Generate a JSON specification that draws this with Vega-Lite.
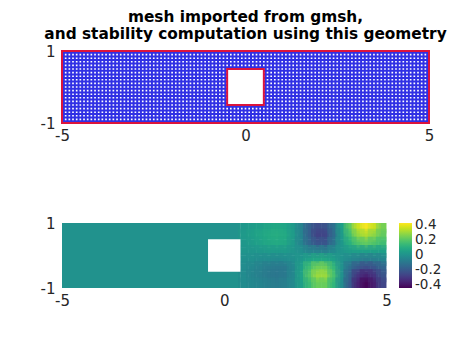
{"$schema":"https://vega.github.io/schema/vega-lite/v6.json","padding":{"left":40,"top":9,"right":5,"bottom":5},"background":"white","bounds":"flush","spacing":100,"config":{"view":{"stroke":null},"font":"DejaVu Sans","axis":{"domain":false,"ticks":false,"grid":false,"title":null,"labelFont":"DejaVu Sans","labelFontSize":15,"labelColor":"#262626","labelOverlap":false,"labelFlush":false}},
"datasets":{
"vx":[{"x":-4.95},{"x":-4.85},{"x":-4.75},{"x":-4.65},{"x":-4.55},{"x":-4.45},{"x":-4.35},{"x":-4.25},{"x":-4.15},{"x":-4.05},{"x":-3.95},{"x":-3.85},{"x":-3.75},{"x":-3.65},{"x":-3.55},{"x":-3.45},{"x":-3.35},{"x":-3.25},{"x":-3.15},{"x":-3.05},{"x":-2.95},{"x":-2.85},{"x":-2.75},{"x":-2.65},{"x":-2.55},{"x":-2.45},{"x":-2.35},{"x":-2.25},{"x":-2.15},{"x":-2.05},{"x":-1.95},{"x":-1.85},{"x":-1.75},{"x":-1.65},{"x":-1.55},{"x":-1.45},{"x":-1.35},{"x":-1.25},{"x":-1.15},{"x":-1.05},{"x":-0.95},{"x":-0.85},{"x":-0.75},{"x":-0.65},{"x":-0.55},{"x":-0.45},{"x":-0.35},{"x":-0.25},{"x":-0.15},{"x":-0.05},{"x":0.05},{"x":0.15},{"x":0.25},{"x":0.35},{"x":0.45},{"x":0.55},{"x":0.65},{"x":0.75},{"x":0.85},{"x":0.95},{"x":1.05},{"x":1.15},{"x":1.25},{"x":1.35},{"x":1.45},{"x":1.55},{"x":1.65},{"x":1.75},{"x":1.85},{"x":1.95},{"x":2.05},{"x":2.15},{"x":2.25},{"x":2.35},{"x":2.45},{"x":2.55},{"x":2.65},{"x":2.75},{"x":2.85},{"x":2.95},{"x":3.05},{"x":3.15},{"x":3.25},{"x":3.35},{"x":3.45},{"x":3.55},{"x":3.65},{"x":3.75},{"x":3.85},{"x":3.95},{"x":4.05},{"x":4.15},{"x":4.25},{"x":4.35},{"x":4.45},{"x":4.55},{"x":4.65},{"x":4.75},{"x":4.85},{"x":4.95}],
"hy":[{"y":-0.95},{"y":-0.85},{"y":-0.75},{"y":-0.65},{"y":-0.55},{"y":-0.45},{"y":-0.35},{"y":-0.25},{"y":-0.15},{"y":-0.05},{"y":0.05},{"y":0.15},{"y":0.25},{"y":0.35},{"y":0.45},{"y":0.55},{"y":0.65},{"y":0.75},{"y":0.85},{"y":0.95}],
"field":[
{"x":0.625,"y":0.875,"v":0.02},{"x":0.875,"y":0.875,"v":0.04},{"x":1.125,"y":0.875,"v":0.05},{"x":1.375,"y":0.875,"v":0.07},{"x":1.625,"y":0.875,"v":0.08},{"x":1.875,"y":0.875,"v":0.07},{"x":2.125,"y":0.875,"v":0.03},{"x":2.375,"y":0.875,"v":-0.06},{"x":2.625,"y":0.875,"v":-0.18},{"x":2.875,"y":0.875,"v":-0.24},{"x":3.125,"y":0.875,"v":-0.22},{"x":3.375,"y":0.875,"v":-0.12},{"x":3.625,"y":0.875,"v":0.05},{"x":3.875,"y":0.875,"v":0.22},{"x":4.125,"y":0.875,"v":0.36},{"x":4.375,"y":0.875,"v":0.42},{"x":4.625,"y":0.875,"v":0.36},{"x":4.875,"y":0.875,"v":0.25},
{"x":0.625,"y":0.625,"v":0.03},{"x":0.875,"y":0.625,"v":0.05},{"x":1.125,"y":0.625,"v":0.07},{"x":1.375,"y":0.625,"v":0.09},{"x":1.625,"y":0.625,"v":0.1},{"x":1.875,"y":0.625,"v":0.09},{"x":2.125,"y":0.625,"v":0.04},{"x":2.375,"y":0.625,"v":-0.05},{"x":2.625,"y":0.625,"v":-0.18},{"x":2.875,"y":0.625,"v":-0.27},{"x":3.125,"y":0.625,"v":-0.26},{"x":3.375,"y":0.625,"v":-0.14},{"x":3.625,"y":0.625,"v":0.03},{"x":3.875,"y":0.625,"v":0.17},{"x":4.125,"y":0.625,"v":0.29},{"x":4.375,"y":0.625,"v":0.33},{"x":4.625,"y":0.625,"v":0.28},{"x":4.875,"y":0.625,"v":0.22},
{"x":0.625,"y":0.375,"v":0.02},{"x":0.875,"y":0.375,"v":0.04},{"x":1.125,"y":0.375,"v":0.06},{"x":1.375,"y":0.375,"v":0.08},{"x":1.625,"y":0.375,"v":0.09},{"x":1.875,"y":0.375,"v":0.08},{"x":2.125,"y":0.375,"v":0.03},{"x":2.375,"y":0.375,"v":-0.05},{"x":2.625,"y":0.375,"v":-0.15},{"x":2.875,"y":0.375,"v":-0.21},{"x":3.125,"y":0.375,"v":-0.21},{"x":3.375,"y":0.375,"v":-0.11},{"x":3.625,"y":0.375,"v":0.02},{"x":3.875,"y":0.375,"v":0.11},{"x":4.125,"y":0.375,"v":0.19},{"x":4.375,"y":0.375,"v":0.22},{"x":4.625,"y":0.375,"v":0.19},{"x":4.875,"y":0.375,"v":0.16},
{"x":0.625,"y":0.125,"v":0.01},{"x":0.875,"y":0.125,"v":0.01},{"x":1.125,"y":0.125,"v":0.02},{"x":1.375,"y":0.125,"v":0.03},{"x":1.625,"y":0.125,"v":0.03},{"x":1.875,"y":0.125,"v":0.03},{"x":2.125,"y":0.125,"v":0.01},{"x":2.375,"y":0.125,"v":-0.01},{"x":2.625,"y":0.125,"v":-0.05},{"x":2.875,"y":0.125,"v":-0.06},{"x":3.125,"y":0.125,"v":-0.07},{"x":3.375,"y":0.125,"v":-0.03},{"x":3.625,"y":0.125,"v":0.01},{"x":3.875,"y":0.125,"v":0.04},{"x":4.125,"y":0.125,"v":0.05},{"x":4.375,"y":0.125,"v":0.05},{"x":4.625,"y":0.125,"v":0.05},{"x":4.875,"y":0.125,"v":0.05},
{"x":0.625,"y":-0.125,"v":-0.01},{"x":0.875,"y":-0.125,"v":-0.01},{"x":1.125,"y":-0.125,"v":-0.02},{"x":1.375,"y":-0.125,"v":-0.02},{"x":1.625,"y":-0.125,"v":-0.03},{"x":1.875,"y":-0.125,"v":-0.02},{"x":2.125,"y":-0.125,"v":-0.01},{"x":2.375,"y":-0.125,"v":0.02},{"x":2.625,"y":-0.125,"v":0.06},{"x":2.875,"y":-0.125,"v":0.08},{"x":3.125,"y":-0.125,"v":0.08},{"x":3.375,"y":-0.125,"v":0.05},{"x":3.625,"y":-0.125,"v":0},{"x":3.875,"y":-0.125,"v":-0.03},{"x":4.125,"y":-0.125,"v":-0.06},{"x":4.375,"y":-0.125,"v":-0.08},{"x":4.625,"y":-0.125,"v":-0.07},{"x":4.875,"y":-0.125,"v":-0.05},
{"x":0.625,"y":-0.375,"v":-0.02},{"x":0.875,"y":-0.375,"v":-0.04},{"x":1.125,"y":-0.375,"v":-0.06},{"x":1.375,"y":-0.375,"v":-0.08},{"x":1.625,"y":-0.375,"v":-0.09},{"x":1.875,"y":-0.375,"v":-0.09},{"x":2.125,"y":-0.375,"v":-0.04},{"x":2.375,"y":-0.375,"v":0.05},{"x":2.625,"y":-0.375,"v":0.16},{"x":2.875,"y":-0.375,"v":0.24},{"x":3.125,"y":-0.375,"v":0.24},{"x":3.375,"y":-0.375,"v":0.14},{"x":3.625,"y":-0.375,"v":0},{"x":3.875,"y":-0.375,"v":-0.12},{"x":4.125,"y":-0.375,"v":-0.2},{"x":4.375,"y":-0.375,"v":-0.24},{"x":4.625,"y":-0.375,"v":-0.21},{"x":4.875,"y":-0.375,"v":-0.16},
{"x":0.625,"y":-0.625,"v":-0.02},{"x":0.875,"y":-0.625,"v":-0.05},{"x":1.125,"y":-0.625,"v":-0.07},{"x":1.375,"y":-0.625,"v":-0.09},{"x":1.625,"y":-0.625,"v":-0.1},{"x":1.875,"y":-0.625,"v":-0.09},{"x":2.125,"y":-0.625,"v":-0.04},{"x":2.375,"y":-0.625,"v":0.06},{"x":2.625,"y":-0.625,"v":0.2},{"x":2.875,"y":-0.625,"v":0.3},{"x":3.125,"y":-0.625,"v":0.3},{"x":3.375,"y":-0.625,"v":0.18},{"x":3.625,"y":-0.625,"v":0},{"x":3.875,"y":-0.625,"v":-0.18},{"x":4.125,"y":-0.625,"v":-0.31},{"x":4.375,"y":-0.625,"v":-0.36},{"x":4.625,"y":-0.625,"v":-0.31},{"x":4.875,"y":-0.625,"v":-0.22},
{"x":0.625,"y":-0.875,"v":-0.02},{"x":0.875,"y":-0.875,"v":-0.04},{"x":1.125,"y":-0.875,"v":-0.05},{"x":1.375,"y":-0.875,"v":-0.07},{"x":1.625,"y":-0.875,"v":-0.08},{"x":1.875,"y":-0.875,"v":-0.07},{"x":2.125,"y":-0.875,"v":-0.03},{"x":2.375,"y":-0.875,"v":0.05},{"x":2.625,"y":-0.875,"v":0.15},{"x":2.875,"y":-0.875,"v":0.23},{"x":3.125,"y":-0.875,"v":0.23},{"x":3.375,"y":-0.875,"v":0.13},{"x":3.625,"y":-0.875,"v":-0.02},{"x":3.875,"y":-0.875,"v":-0.2},{"x":4.125,"y":-0.875,"v":-0.36},{"x":4.375,"y":-0.875,"v":-0.43},{"x":4.625,"y":-0.875,"v":-0.37},{"x":4.875,"y":-0.875,"v":-0.26}
]},
"vconcat":[
{"width":367,"height":72,
"title":{"text":["mesh imported from gmsh,","and stability computation using this geometry"],"font":"DejaVu Sans","fontSize":15.35,"fontWeight":"bold","color":"black","anchor":"middle","offset":2,"lineHeight":17},
"layer":[
{"data":{"name":"vx"},"mark":{"type":"rule","stroke":"#3030e4","strokeWidth":2},"encoding":{"x":{"field":"x","type":"quantitative","scale":{"domain":[-5,5],"nice":false,"zero":false},"axis":{"values":[-5,0,5],"labelExpr":"datum.value+''","labelPadding":5}}}},
{"data":{"name":"hy"},"mark":{"type":"rule","stroke":"#3030e4","strokeWidth":2},"encoding":{"y":{"field":"y","type":"quantitative","scale":{"domain":[-1,1],"nice":false,"zero":false},"axis":{"values":[-1,0,1],"labelExpr":"datum.value+''","labelPadding":7}}}},
{"data":{"values":[{"x":-0.5,"x2":0.5,"y":-0.5,"y2":0.5}]},"mark":{"type":"rect","fill":"white","stroke":"#dc143c","strokeWidth":2},"encoding":{"x":{"field":"x","type":"quantitative"},"x2":{"field":"x2"},"y":{"field":"y","type":"quantitative"},"y2":{"field":"y2"}}},
{"data":{"values":[{"x":-5,"x2":5,"y":-1,"y2":1}]},"mark":{"type":"rect","fill":null,"stroke":"#dc143c","strokeWidth":2},"encoding":{"x":{"field":"x","type":"quantitative"},"x2":{"field":"x2"},"y":{"field":"y","type":"quantitative"},"y2":{"field":"y2"}}}
]},
{"width":324.5,"height":65,
"resolve":{"scale":{"color":"independent"}},
"layer":[
{"data":{"values":[{"x":-5,"x2":0.5,"y":-1,"y2":1,"v":0}]},"mark":{"type":"rect"},"encoding":{"x":{"field":"x","type":"quantitative","scale":{"domain":[-5,5],"nice":false,"zero":false},"axis":{"values":[-5,0,5],"labelExpr":"datum.value+''","labelPadding":5}},"x2":{"field":"x2"},"y":{"field":"y","type":"quantitative","scale":{"domain":[-1,1],"nice":false,"zero":false},"axis":{"values":[-1,0,1],"labelExpr":"datum.value+''","labelPadding":7}},"y2":{"field":"y2"},"color":{"field":"v","type":"quantitative","scale":{"scheme":"viridis","domain":[-0.44,0.43]},"legend":{"title":null,"orient":"none","legendX":337,"legendY":0,"gradientLength":65,"gradientThickness":13,"values":[-0.4,-0.2,0,0.2,0.4],"labelExpr":"datum.value+''","labelFont":"DejaVu Sans","labelFontSize":13.5,"labelColor":"#262626","labelOffset":3}}}},
{"data":{"name":"field"},"mark":{"type":"rect","width":8.3,"height":8.3,"clip":true},"encoding":{"x":{"field":"x","type":"quantitative"},"y":{"field":"y","type":"quantitative"},"color":{"field":"v","type":"quantitative","scale":{"scheme":"viridis","domain":[-0.44,0.43]},"legend":null}}},
{"data":{"name":"field"},"mark":{"type":"rect","width":13,"height":13,"opacity":0.5,"clip":true},"encoding":{"x":{"field":"x","type":"quantitative"},"y":{"field":"y","type":"quantitative"},"color":{"field":"v","type":"quantitative","scale":{"scheme":"viridis","domain":[-0.44,0.43]},"legend":null}}},
{"data":{"values":[{"x":-0.5,"x2":0.5,"y":-0.5,"y2":0.5}]},"mark":{"type":"rect","fill":"white"},"encoding":{"x":{"field":"x","type":"quantitative"},"x2":{"field":"x2"},"y":{"field":"y","type":"quantitative"},"y2":{"field":"y2"}}}
]}
]}
